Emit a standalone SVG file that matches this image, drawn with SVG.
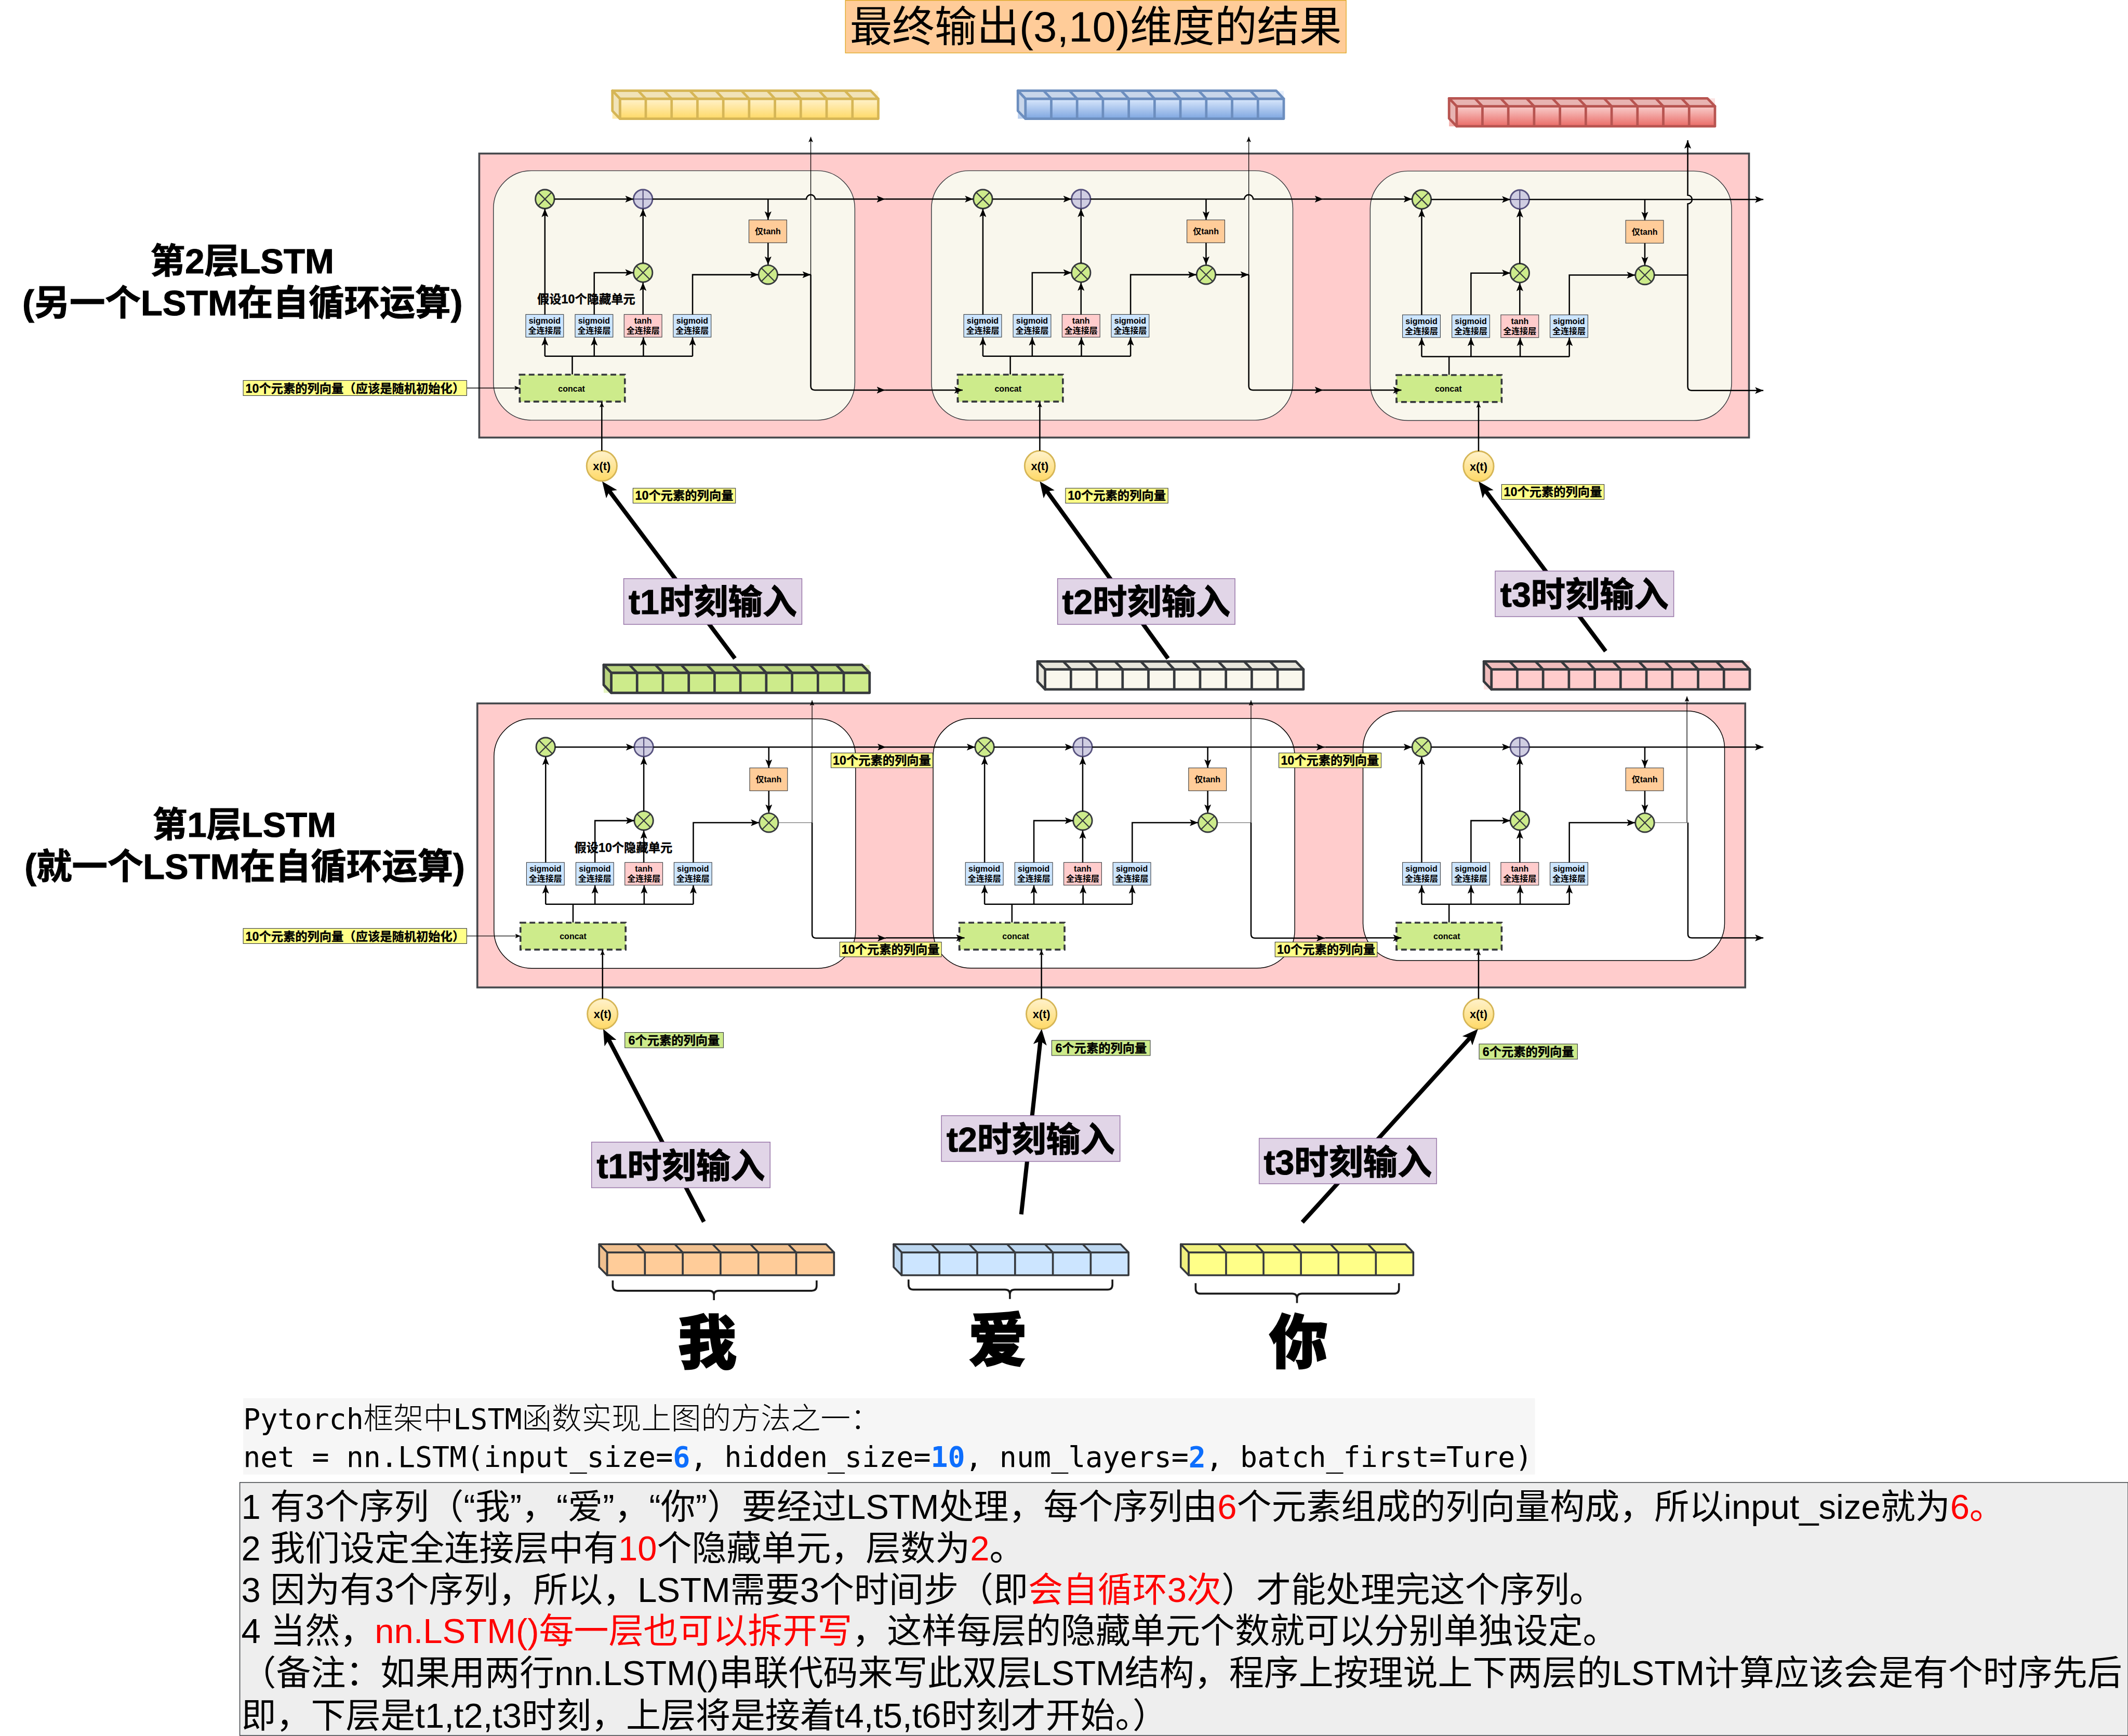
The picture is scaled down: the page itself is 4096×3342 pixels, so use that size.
<svg xmlns="http://www.w3.org/2000/svg" xmlns:xlink="http://www.w3.org/1999/xlink" width="4096" height="3342" viewBox="0 0 4096 3342">
<style>
text{font-family:"Liberation Sans","Noto Sans CJK SC",sans-serif;fill:#000}
.c{text-anchor:middle}
.f{font-size:22px;font-weight:700}
.x{font-size:30px;font-weight:700}
.l{font-size:32px;font-weight:700;stroke:#000;stroke-width:.5}
.h{font-size:91px;font-weight:700;stroke:#000;stroke-width:1.5}
.h2{font-size:94px}
.n{font-size:92px}
.r{fill:#f00}
.code{font-family:"DejaVu Sans Mono","Noto Sans CJK SC",monospace;font-size:75.5px}
.cj{font-size:79px;font-weight:300}
.blue{fill:#0d6efd;font-weight:700}
.big{font-size:155px;font-weight:900;stroke:#000;stroke-width:3}
.w{fill:none;stroke:#000;stroke-width:3.5}
.a{marker-end:url(#ah)}
.t{fill:none;stroke:#000;stroke-width:1.8}
.s{marker-end:url(#as)}
.g{fill:none;stroke:#555;stroke-width:1.5}
.b{fill:none;stroke:#000;stroke-width:11;marker-end:url(#ab)}
.op{fill:#cdeb8b;stroke:#36393d;stroke-width:4}
.ad{fill:#d0cee2;stroke:#56517e;stroke-width:4}
.mk{fill:none;stroke:#36393d;stroke-width:3}
.mp{fill:none;stroke:#56517e;stroke-width:3}
.sg{fill:#cce5ff;stroke:#36393d;stroke-width:1.5}
.ta{fill:#ffcccc;stroke:#36393d;stroke-width:1.5}
.ot{fill:#ffcc99;stroke:#36393d;stroke-width:1.5}
.cc{fill:#cdeb8b;stroke:#36393d;stroke-width:5;stroke-dasharray:15 9}
.xt{fill:url(#gx);stroke:#d6b656;stroke-width:4}
.yl{fill:#ffff88;stroke:#36393d;stroke-width:1.5}
.gl{fill:#cdeb8b;stroke:#36393d;stroke-width:1.5}
.pu{fill:#e1d5e7;stroke:#9673a6;stroke-width:2}
.fr{fill:#ffcccc;stroke:#46494d;stroke-width:5}
.i1{fill:#f9f7ed;stroke:#36393d;stroke-width:2}
.i2{fill:#fff;stroke:#000;stroke-width:2}
.br{fill:none;stroke:#1a1a1a;stroke-width:5}
</style>
<defs>
<marker id="ah" markerUnits="userSpaceOnUse" markerWidth="22" markerHeight="18" refX="22" refY="9" orient="auto"><path d="M0 0L22 9L0 18L5 9Z" fill="#000"/></marker>
<marker id="as" markerUnits="userSpaceOnUse" markerWidth="14" markerHeight="12" refX="14" refY="6" orient="auto"><path d="M0 0L14 6L0 12L3 6Z" fill="#000"/></marker>
<marker id="ab" markerUnits="userSpaceOnUse" markerWidth="42" markerHeight="36" refX="12" refY="18" orient="auto"><path d="M0 0L42 18L0 36L10 18Z" fill="#000"/></marker>
<linearGradient id="gx" x1="0" y1="0" x2="0" y2="1"><stop offset="0" stop-color="#fff2cc"/><stop offset="1" stop-color="#ffd966"/></linearGradient>
<linearGradient id="gy" x1="0" y1="0" x2="0" y2="1"><stop offset="0" stop-color="#fff2cc"/><stop offset="1" stop-color="#ffd966"/></linearGradient>
<linearGradient id="gb" x1="0" y1="0" x2="0" y2="1"><stop offset="0" stop-color="#dae8fc"/><stop offset="1" stop-color="#7ea6e0"/></linearGradient>
<linearGradient id="gr" x1="0" y1="0" x2="0" y2="1"><stop offset="0" stop-color="#f8cecc"/><stop offset="1" stop-color="#ea6b66"/></linearGradient>
<g id="b10" stroke-width="6.5" stroke-linejoin="round">
<path d="M0 0H703V74H0Z" fill-opacity=".55" stroke="none"/>
<path d="M20 21H703V74H20Z"/>
<path d="M0 0H683L703 21H20Z" fill="currentColor"/>
<path d="M0 0L20 21V74L0 53Z" fill="currentColor"/>
<path fill="none" d="M88.3 21V74M156.6 21V74M224.9 21V74M293.2 21V74M361.5 21V74M429.8 21V74M498.1 21V74M566.4 21V74M634.7 21V74M68.3 0L88.3 21M136.6 0L156.6 21M204.9 0L224.9 21M273.2 0L293.2 21M341.5 0L361.5 21M409.8 0L429.8 21M478.1 0L498.1 21M546.4 0L566.4 21M614.7 0L634.7 21"/>
</g>
<g id="b6" stroke-width="5" stroke-linejoin="round" stroke="#36393d">
<path d="M21 21.6H621V82H21Z"/>
<path d="M0 0H600L621 21.6H21Z" fill="currentColor"/>
<path d="M0 0L21 21.6V82L0 60.4Z" fill="currentColor"/>
<path fill="none" d="M121 21.6V82M221 21.6V82M321 21.6V82M421 21.6V82M521 21.6V82M100 0L121 21.6M200 0L221 21.6M300 0L321 21.6M400 0L421 21.6M500 0L521 21.6"/>
</g>
</defs>
<g transform="scale(0.72805)">
<g id="title"><rect x="2235" y="1" width="1324" height="139" fill="#ffcc99" stroke="#d79b00" stroke-width="1.5"/><text class="c" x="2897" y="110" font-size="112">最终输出(3,10)维度的结果</text></g>

<g id="output-bars">
<use href="#b10" x="1619" y="240" fill="url(#gy)" color="#f1e3b8" stroke="#d6b656"/>
<use href="#b10" x="2691" y="240" fill="url(#gb)" color="#c8d6ea" stroke="#6c8ebf"/>
<use href="#b10" x="3831" y="260" fill="url(#gr)" color="#e8b4b2" stroke="#b85450"/>
</g>

<g id="layer2-frame"><rect class="fr" x="1267" y="406" width="3357" height="751"/>
<rect class="i1" x="1304.5" y="451.4" width="955.5" height="659.6" rx="100"/>
<rect class="i1" x="2462.5" y="451.4" width="955.5" height="659.6" rx="100"/>
<rect class="i1" x="3622.5" y="452.4" width="955.5" height="659.6" rx="100"/>
</g>
<g id="layer1-frame"><rect class="fr" x="1262" y="1860" width="3352" height="751"/>
<rect class="i2" x="1306" y="1900.5" width="956" height="660" rx="100"/>
<rect class="i2" x="2467" y="1900" width="956" height="660" rx="100"/>
<rect class="i2" x="3603.5" y="1880" width="956" height="660" rx="100"/>
</g>

<g id="layer2-cell1">
<g id="c21-f1"><circle class="op" cx="1440.6" cy="526.4" r="25"/><path class="mk" d="M1423 508.7L1458.3 544.1M1458.3 508.7L1423 544.1"/></g>
<g id="c21-add"><circle class="ad" cx="1700" cy="526.4" r="25"/><path class="mp" d="M1675 526.4H1725M1700 501.4V551.4"/></g>
<g id="c21-f2"><circle class="op" cx="1700" cy="721" r="25"/><path class="mk" d="M1682.3 703.3L1717.7 738.7M1717.7 703.3L1682.3 738.7"/></g>
<g id="c21-f3"><circle class="op" cx="2030.6" cy="726.4" r="25"/><path class="mk" d="M2012.9 708.7L2048.3 744.1M2048.3 708.7L2012.9 744.1"/></g>
<g id="c21-ot"><rect class="ot" x="1980" y="581.5" width="100" height="60.5"/><text class="c f" x="2030" y="620">仅tanh</text></g>
<g id="c21-s1"><rect class="sg" x="1390" y="831.5" width="100" height="60"/><text class="c f" x="1440" y="856">sigmoid</text><text class="c f" x="1440" y="882">全连接层</text></g>
<g id="c21-s2"><rect class="sg" x="1520.5" y="831.5" width="100" height="60"/><text class="c f" x="1570.5" y="856">sigmoid</text><text class="c f" x="1570.5" y="882">全连接层</text></g>
<g id="c21-s3"><rect class="ta" x="1650" y="831.5" width="100" height="60"/><text class="c f" x="1700" y="856">tanh</text><text class="c f" x="1700" y="882">全连接层</text></g>
<g id="c21-s4"><rect class="sg" x="1780" y="831.5" width="100" height="60"/><text class="c f" x="1830" y="856">sigmoid</text><text class="c f" x="1830" y="882">全连接层</text></g>
<g id="c21-cc"><rect class="cc" x="1374" y="990.7" width="278" height="71.3"/><text class="c f" x="1511" y="1035">concat</text></g>
<g id="c21-xt"><circle class="xt" cx="1591" cy="1232" r="40"/><text class="c x" x="1591" y="1243">x(t)</text></g>
</g>
<g id="layer2-cell2" transform="translate(1158,0)">
<g id="c22-f1"><circle class="op" cx="1440.6" cy="526.4" r="25"/><path class="mk" d="M1423 508.7L1458.3 544.1M1458.3 508.7L1423 544.1"/></g>
<g id="c22-add"><circle class="ad" cx="1700" cy="526.4" r="25"/><path class="mp" d="M1675 526.4H1725M1700 501.4V551.4"/></g>
<g id="c22-f2"><circle class="op" cx="1700" cy="721" r="25"/><path class="mk" d="M1682.3 703.3L1717.7 738.7M1717.7 703.3L1682.3 738.7"/></g>
<g id="c22-f3"><circle class="op" cx="2030.6" cy="726.4" r="25"/><path class="mk" d="M2012.9 708.7L2048.3 744.1M2048.3 708.7L2012.9 744.1"/></g>
<g id="c22-ot"><rect class="ot" x="1980" y="581.5" width="100" height="60.5"/><text class="c f" x="2030" y="620">仅tanh</text></g>
<g id="c22-s1"><rect class="sg" x="1390" y="831.5" width="100" height="60"/><text class="c f" x="1440" y="856">sigmoid</text><text class="c f" x="1440" y="882">全连接层</text></g>
<g id="c22-s2"><rect class="sg" x="1520.5" y="831.5" width="100" height="60"/><text class="c f" x="1570.5" y="856">sigmoid</text><text class="c f" x="1570.5" y="882">全连接层</text></g>
<g id="c22-s3"><rect class="ta" x="1650" y="831.5" width="100" height="60"/><text class="c f" x="1700" y="856">tanh</text><text class="c f" x="1700" y="882">全连接层</text></g>
<g id="c22-s4"><rect class="sg" x="1780" y="831.5" width="100" height="60"/><text class="c f" x="1830" y="856">sigmoid</text><text class="c f" x="1830" y="882">全连接层</text></g>
<g id="c22-cc"><rect class="cc" x="1374" y="990.7" width="278" height="71.3"/><text class="c f" x="1507" y="1035">concat</text></g>
<g id="c22-xt"><circle class="xt" cx="1591" cy="1232" r="40"/><text class="c x" x="1591" y="1243">x(t)</text></g>
</g>
<g id="layer2-cell3" transform="translate(2318,1)">
<g id="c23-f1"><circle class="op" cx="1440.6" cy="526.4" r="25"/><path class="mk" d="M1423 508.7L1458.3 544.1M1458.3 508.7L1423 544.1"/></g>
<g id="c23-add"><circle class="ad" cx="1700" cy="526.4" r="25"/><path class="mp" d="M1675 526.4H1725M1700 501.4V551.4"/></g>
<g id="c23-f2"><circle class="op" cx="1700" cy="721" r="25"/><path class="mk" d="M1682.3 703.3L1717.7 738.7M1717.7 703.3L1682.3 738.7"/></g>
<g id="c23-f3"><circle class="op" cx="2030.6" cy="726.4" r="25"/><path class="mk" d="M2012.9 708.7L2048.3 744.1M2048.3 708.7L2012.9 744.1"/></g>
<g id="c23-ot"><rect class="ot" x="1980" y="581.5" width="100" height="60.5"/><text class="c f" x="2030" y="620">仅tanh</text></g>
<g id="c23-s1"><rect class="sg" x="1390" y="831.5" width="100" height="60"/><text class="c f" x="1440" y="856">sigmoid</text><text class="c f" x="1440" y="882">全连接层</text></g>
<g id="c23-s2"><rect class="sg" x="1520.5" y="831.5" width="100" height="60"/><text class="c f" x="1570.5" y="856">sigmoid</text><text class="c f" x="1570.5" y="882">全连接层</text></g>
<g id="c23-s3"><rect class="ta" x="1650" y="831.5" width="100" height="60"/><text class="c f" x="1700" y="856">tanh</text><text class="c f" x="1700" y="882">全连接层</text></g>
<g id="c23-s4"><rect class="sg" x="1780" y="831.5" width="100" height="60"/><text class="c f" x="1830" y="856">sigmoid</text><text class="c f" x="1830" y="882">全连接层</text></g>
<g id="c23-cc"><rect class="cc" x="1374" y="990.7" width="278" height="71.3"/><text class="c f" x="1511" y="1035">concat</text></g>
<g id="c23-xt"><circle class="xt" cx="1591" cy="1232" r="40"/><text class="c x" x="1591" y="1243">x(t)</text></g>
</g>

<g id="layer1-cell1" transform="translate(2,1449)">
<g id="c11-f1"><circle class="op" cx="1440.6" cy="526.4" r="25"/><path class="mk" d="M1423 508.7L1458.3 544.1M1458.3 508.7L1423 544.1"/></g>
<g id="c11-add"><circle class="ad" cx="1700" cy="526.4" r="25"/><path class="mp" d="M1675 526.4H1725M1700 501.4V551.4"/></g>
<g id="c11-f2"><circle class="op" cx="1700" cy="721" r="25"/><path class="mk" d="M1682.3 703.3L1717.7 738.7M1717.7 703.3L1682.3 738.7"/></g>
<g id="c11-f3"><circle class="op" cx="2030.6" cy="726.4" r="25"/><path class="mk" d="M2012.9 708.7L2048.3 744.1M2048.3 708.7L2012.9 744.1"/></g>
<g id="c11-ot"><rect class="ot" x="1980" y="581.5" width="100" height="60.5"/><text class="c f" x="2030" y="620">仅tanh</text></g>
<g id="c11-s1"><rect class="sg" x="1390" y="831.5" width="100" height="60"/><text class="c f" x="1440" y="856">sigmoid</text><text class="c f" x="1440" y="882">全连接层</text></g>
<g id="c11-s2"><rect class="sg" x="1520.5" y="831.5" width="100" height="60"/><text class="c f" x="1570.5" y="856">sigmoid</text><text class="c f" x="1570.5" y="882">全连接层</text></g>
<g id="c11-s3"><rect class="ta" x="1650" y="831.5" width="100" height="60"/><text class="c f" x="1700" y="856">tanh</text><text class="c f" x="1700" y="882">全连接层</text></g>
<g id="c11-s4"><rect class="sg" x="1780" y="831.5" width="100" height="60"/><text class="c f" x="1830" y="856">sigmoid</text><text class="c f" x="1830" y="882">全连接层</text></g>
<g id="c11-cc"><rect class="cc" x="1374" y="990.7" width="278" height="71.3"/><text class="c f" x="1513" y="1035">concat</text></g>
<g id="c11-xt"><circle class="xt" cx="1591" cy="1232" r="40"/><text class="c x" x="1591" y="1243">x(t)</text></g>
</g>
<g id="layer1-cell2" transform="translate(1162.4,1449)">
<g id="c12-f1"><circle class="op" cx="1440.6" cy="526.4" r="25"/><path class="mk" d="M1423 508.7L1458.3 544.1M1458.3 508.7L1423 544.1"/></g>
<g id="c12-add"><circle class="ad" cx="1700" cy="526.4" r="25"/><path class="mp" d="M1675 526.4H1725M1700 501.4V551.4"/></g>
<g id="c12-f2"><circle class="op" cx="1700" cy="721" r="25"/><path class="mk" d="M1682.3 703.3L1717.7 738.7M1717.7 703.3L1682.3 738.7"/></g>
<g id="c12-f3"><circle class="op" cx="2030.6" cy="726.4" r="25"/><path class="mk" d="M2012.9 708.7L2048.3 744.1M2048.3 708.7L2012.9 744.1"/></g>
<g id="c12-ot"><rect class="ot" x="1980" y="581.5" width="100" height="60.5"/><text class="c f" x="2030" y="620">仅tanh</text></g>
<g id="c12-s1"><rect class="sg" x="1390" y="831.5" width="100" height="60"/><text class="c f" x="1440" y="856">sigmoid</text><text class="c f" x="1440" y="882">全连接层</text></g>
<g id="c12-s2"><rect class="sg" x="1520.5" y="831.5" width="100" height="60"/><text class="c f" x="1570.5" y="856">sigmoid</text><text class="c f" x="1570.5" y="882">全连接层</text></g>
<g id="c12-s3"><rect class="ta" x="1650" y="831.5" width="100" height="60"/><text class="c f" x="1700" y="856">tanh</text><text class="c f" x="1700" y="882">全连接层</text></g>
<g id="c12-s4"><rect class="sg" x="1780" y="831.5" width="100" height="60"/><text class="c f" x="1830" y="856">sigmoid</text><text class="c f" x="1830" y="882">全连接层</text></g>
<g id="c12-cc"><rect class="cc" x="1374" y="990.7" width="278" height="71.3"/><text class="c f" x="1523" y="1035">concat</text></g>
<g id="c12-xt"><circle class="xt" cx="1591" cy="1232" r="40"/><text class="c x" x="1591" y="1243">x(t)</text></g>
</g>
<g id="layer1-cell3" transform="translate(2318,1449)">
<g id="c13-f1"><circle class="op" cx="1440.6" cy="526.4" r="25"/><path class="mk" d="M1423 508.7L1458.3 544.1M1458.3 508.7L1423 544.1"/></g>
<g id="c13-add"><circle class="ad" cx="1700" cy="526.4" r="25"/><path class="mp" d="M1675 526.4H1725M1700 501.4V551.4"/></g>
<g id="c13-f2"><circle class="op" cx="1700" cy="721" r="25"/><path class="mk" d="M1682.3 703.3L1717.7 738.7M1717.7 703.3L1682.3 738.7"/></g>
<g id="c13-f3"><circle class="op" cx="2030.6" cy="726.4" r="25"/><path class="mk" d="M2012.9 708.7L2048.3 744.1M2048.3 708.7L2012.9 744.1"/></g>
<g id="c13-ot"><rect class="ot" x="1980" y="581.5" width="100" height="60.5"/><text class="c f" x="2030" y="620">仅tanh</text></g>
<g id="c13-s1"><rect class="sg" x="1390" y="831.5" width="100" height="60"/><text class="c f" x="1440" y="856">sigmoid</text><text class="c f" x="1440" y="882">全连接层</text></g>
<g id="c13-s2"><rect class="sg" x="1520.5" y="831.5" width="100" height="60"/><text class="c f" x="1570.5" y="856">sigmoid</text><text class="c f" x="1570.5" y="882">全连接层</text></g>
<g id="c13-s3"><rect class="ta" x="1650" y="831.5" width="100" height="60"/><text class="c f" x="1700" y="856">tanh</text><text class="c f" x="1700" y="882">全连接层</text></g>
<g id="c13-s4"><rect class="sg" x="1780" y="831.5" width="100" height="60"/><text class="c f" x="1830" y="856">sigmoid</text><text class="c f" x="1830" y="882">全连接层</text></g>
<g id="c13-cc"><rect class="cc" x="1374" y="990.7" width="278" height="71.3"/><text class="c f" x="1507" y="1035">concat</text></g>
<g id="c13-xt"><circle class="xt" cx="1591" cy="1232" r="40"/><text class="c x" x="1591" y="1243">x(t)</text></g>
</g>

<g id="connectors">
<g transform="translate(0,0)">
<path class="w a" d="M1440.6 831.5V552"/><path class="w a" d="M1466 526.4H1675"/><path class="w a" d="M1700 696V552"/><path class="w a" d="M1700 831.5V747"/><path class="w a" d="M1571 831.5V721H1675"/><path class="w a" d="M1831 831.5V726.4H2005"/><path class="w a" d="M2056 726.4H2143.5"/>
<path class="w a" d="M1725 526.4H2132A11.5 11.5 0 0 1 2155 526.4H2340"/><path class="w a" d="M2030.6 526.4V581"/><path class="w a" d="M2030.6 642V700"/>
<path class="w" d="M1440.6 942H1831M1513 990V942"/><path class="w a" d="M1440.6 942V892"/><path class="w a" d="M1571 942V892"/><path class="w a" d="M1701 942V892"/><path class="w a" d="M1831 942V892"/>
<path class="w a" d="M2143.5 726V1021Q2143.5 1031.5 2154 1031.5H2340"/><path class="t s" d="M2143.5 726V362"/><path class="w s" d="M1591 1192V1063"/>
</g>
<g transform="translate(1158,0)">
<path class="w a" d="M1440.6 831.5V552"/><path class="w a" d="M1466 526.4H1675"/><path class="w a" d="M1700 696V552"/><path class="w a" d="M1700 831.5V747"/><path class="w a" d="M1571 831.5V721H1675"/><path class="w a" d="M1831 831.5V726.4H2005"/><path class="w a" d="M2056 726.4H2143.5"/>
<path class="w a" d="M1725 526.4H2132A11.5 11.5 0 0 1 2155 526.4H2340"/><path class="w a" d="M2030.6 526.4V581"/><path class="w a" d="M2030.6 642V700"/>
<path class="w" d="M1440.6 942H1831M1513 990V942"/><path class="w a" d="M1440.6 942V892"/><path class="w a" d="M1571 942V892"/><path class="w a" d="M1701 942V892"/><path class="w a" d="M1831 942V892"/>
<path class="w a" d="M2143.5 726V1021Q2143.5 1031.5 2154 1031.5H2340"/><path class="t s" d="M2143.5 726V362"/><path class="w s" d="M1591 1192V1063"/>
</g>
<g transform="translate(2318,1)">
<path class="w a" d="M1440.6 831.5V552"/><path class="w a" d="M1466 526.4H1675"/><path class="w a" d="M1700 696V552"/><path class="w a" d="M1700 831.5V747"/><path class="w a" d="M1571 831.5V721H1675"/><path class="w a" d="M1831 831.5V726.4H2005"/><path class="w" d="M2056 726.4H2144"/>
<path class="w a" d="M1725 526.4H2344"/><path class="w a" d="M2030.6 526.4V581"/><path class="w a" d="M2030.6 642V700"/>
<path class="w" d="M1440.6 942H1831M1513 990V942"/><path class="w a" d="M1440.6 942V892"/><path class="w a" d="M1571 942V892"/><path class="w a" d="M1701 942V892"/><path class="w a" d="M1831 942V892"/>
<path class="w a" d="M2144 726V1021Q2144 1031.5 2154 1031.5H2344"/><path class="w a" d="M2144 726V538A11.5 11.5 0 0 0 2144 515V370"/><path class="w s" d="M1591 1192V1063"/>
</g>
<g transform="translate(2,1449)">
<path class="w a" d="M1440.6 831.5V552"/><path class="w a" d="M1466 526.4H1675"/><path class="w a" d="M1700 696V552"/><path class="w a" d="M1700 831.5V747"/><path class="w a" d="M1571 831.5V721H1675"/><path class="w a" d="M1831 831.5V726.4H2005"/><path class="g" d="M2056 726.4H2145"/>
<path class="w a" d="M1725 526.4H2340"/><path class="w a" d="M2030.6 526.4V581"/><path class="w a" d="M2030.6 642V700"/>
<path class="w" d="M1440.6 942H1831M1513 990V942"/><path class="w a" d="M1440.6 942V892"/><path class="w a" d="M1571 942V892"/><path class="w a" d="M1701 942V892"/><path class="w a" d="M1831 942V892"/>
<path class="w a" d="M2145 726V1021Q2145 1031.5 2155 1031.5H2340"/><path class="t s" d="M2145 726V403"/><path class="w s" d="M1591 1192V1063"/>
</g>
<g transform="translate(1162.4,1449)">
<path class="w a" d="M1440.6 831.5V552"/><path class="w a" d="M1466 526.4H1675"/><path class="w a" d="M1700 696V552"/><path class="w a" d="M1700 831.5V747"/><path class="w a" d="M1571 831.5V721H1675"/><path class="w a" d="M1831 831.5V726.4H2005"/><path class="g" d="M2056 726.4H2145"/>
<path class="w a" d="M1725 526.4H2340"/><path class="w a" d="M2030.6 526.4V581"/><path class="w a" d="M2030.6 642V700"/>
<path class="w" d="M1440.6 942H1831M1513 990V942"/><path class="w a" d="M1440.6 942V892"/><path class="w a" d="M1571 942V892"/><path class="w a" d="M1701 942V892"/><path class="w a" d="M1831 942V892"/>
<path class="w a" d="M2145 726V1021Q2145 1031.5 2155 1031.5H2340"/><path class="t s" d="M2145 726V403"/><path class="w s" d="M1591 1192V1063"/>
</g>
<g transform="translate(2318,1449)">
<path class="w a" d="M1440.6 831.5V552"/><path class="w a" d="M1466 526.4H1675"/><path class="w a" d="M1700 696V552"/><path class="w a" d="M1700 831.5V747"/><path class="w a" d="M1571 831.5V721H1675"/><path class="w a" d="M1831 831.5V726.4H2005"/><path class="g" d="M2056 726.4H2142"/>
<path class="w a" d="M1725 526.4H2344"/><path class="w a" d="M2030.6 526.4V581"/><path class="w a" d="M2030.6 642V700"/>
<path class="w" d="M1440.6 942H1831M1513 990V942"/><path class="w a" d="M1440.6 942V892"/><path class="w a" d="M1571 942V892"/><path class="w a" d="M1701 942V892"/><path class="w a" d="M1831 942V892"/>
<path class="w a" d="M2144.5 726V1021Q2144.5 1031 2155 1031H2344"/><path class="t s" d="M2142 726V392.5"/><path class="w s" d="M1591 1192V1063"/>
</g>
<path class="w a" d="M2340 526.4H2573"/><path class="w a" d="M2340 1031.5H2545"/>
<path class="w a" d="M3498 526.4H3733"/><path class="w a" d="M3498 1031.5H3705"/>
<path class="w a" d="M2342 1975.4H2578"/><path class="w a" d="M2342 2480H2550"/>
<path class="w a" d="M3503 1975.4H3733"/><path class="w a" d="M3503 2480H3705"/>
<path class="t s" d="M1234 1026H1374"/><path class="t s" d="M1234 2475H1376"/>
<path class="b" d="M1943 1741L1610 1297"/><path class="b" d="M3088 1741L2766.6 1297.3"/><path class="b" d="M4245 1722L3927 1297"/>
<path class="b" d="M1861 3230.6L1608.6 2747.6"/><path class="b" d="M2700 3211L2750.7 2750.8"/><path class="b" d="M3443 3232L3887.3 2743.2"/>
</g>

<g id="hidden-note-2"><text class="c l" x="1550" y="802">假设10个隐藏单元</text></g>
<g id="hidden-note-1"><text class="c l" x="1648" y="2253">假设10个隐藏单元</text></g>
<g id="title-layer2"><text class="c h" x="640" y="722" style="font-size:92px">第2层LSTM</text><text class="c h h2" x="641" y="834" style="font-size:94px">(另一个LSTM在自循环运算)</text></g>
<g id="title-layer1"><text class="c h" x="646" y="2213" style="font-size:92px">第1层LSTM</text><text class="c h h2" x="647" y="2324" style="font-size:94px">(就一个LSTM在自循环运算)</text></g>

<g id="init-2"><rect class="yl" x="643" y="1006" width="591" height="40"/><text class="l" x="649" y="1038">10个元素的列向量（应该是随机初始化）</text></g>
<g id="init-1"><rect class="yl" x="643" y="2455" width="591" height="40"/><text class="l" x="649" y="2487">10个元素的列向量（应该是随机初始化）</text></g>
<g id="vec10-a"><rect class="yl" x="1673.5" y="1291" width="271" height="39.5"/><text class="c l" x="1809" y="1322">10个元素的列向量</text></g>
<g id="vec10-b"><rect class="yl" x="2817" y="1291" width="271" height="39.5"/><text class="c l" x="2952.5" y="1322">10个元素的列向量</text></g>
<g id="vec10-c"><rect class="yl" x="3970" y="1281" width="271" height="39.5"/><text class="c l" x="4105.5" y="1312">10个元素的列向量</text></g>
<g id="vec10-d"><rect class="yl" x="2197" y="1991" width="269" height="39"/><text class="c l" x="2331.5" y="2022">10个元素的列向量</text></g>
<g id="vec10-e"><rect class="yl" x="2220" y="2491" width="269" height="39"/><text class="c l" x="2354.5" y="2522">10个元素的列向量</text></g>
<g id="vec10-f"><rect class="yl" x="3381" y="1991" width="270.5" height="39"/><text class="c l" x="3516" y="2022">10个元素的列向量</text></g>
<g id="vec10-g"><rect class="yl" x="3371" y="2491" width="270" height="39"/><text class="c l" x="3506" y="2522">10个元素的列向量</text></g>
<g id="vec6-a"><rect class="gl" x="1652" y="2730" width="260.6" height="40.6"/><text class="c l" x="1782" y="2762">6个元素的列向量</text></g>
<g id="vec6-b"><rect class="gl" x="2780.6" y="2751" width="260.4" height="40"/><text class="c l" x="2911" y="2783">6个元素的列向量</text></g>
<g id="vec6-c"><rect class="gl" x="3910.5" y="2760.6" width="260" height="40"/><text class="c l" x="4040.5" y="2792">6个元素的列向量</text></g>

<g id="t1-up"><rect class="pu" x="1649" y="1530" width="471" height="121"/><text class="c h" x="1884.5" y="1624">t1时刻输入</text></g>
<g id="t2-up"><rect class="pu" x="2796" y="1530" width="469" height="121"/><text class="c h" x="3030.5" y="1624">t2时刻输入</text></g>
<g id="t3-up"><rect class="pu" x="3953" y="1510" width="472" height="120.5"/><text class="c h" x="4189" y="1604">t3时刻输入</text></g>
<g id="t1-low"><rect class="pu" x="1564" y="3020" width="472" height="120.6"/><text class="c h" x="1800" y="3115">t1时刻输入</text></g>
<g id="t2-low"><rect class="pu" x="2489" y="2950" width="472" height="121"/><text class="c h" x="2725" y="3045">t2时刻输入</text></g>
<g id="t3-low"><rect class="pu" x="3329" y="3010" width="469" height="120"/><text class="c h" x="3563.5" y="3105">t3时刻输入</text></g>

<g id="mid-bars">
<use href="#b10" x="1596" y="1758" fill="#cdeb8b" color="#b9d47e" stroke="#36393d"/>
<use href="#b10" x="2743" y="1749" fill="#f9f7ed" color="#e8e6dc" stroke="#36393d"/>
<use href="#b10" x="3923" y="1749" fill="#ffcccc" color="#f0bcbc" stroke="#36393d"/>
</g>
<g id="word-wo"><use href="#b6" x="1584" y="3290" fill="#ffcc99" color="#f0c08f"/><path class="br" d="M1620 3385.6V3400Q1620 3413 1633 3413H1875Q1887.5 3413 1887.5 3425V3438M2159 3385.6V3400Q2159 3413 2146 3413H1900Q1887.5 3413 1887.5 3425"/><text class="c big" x="1870" y="3605">我</text></g>
<g id="word-ai"><use href="#b6" x="2362.6" y="3290" fill="#cce5ff" color="#bcd6ef"/><path class="br" d="M2402 3383.5V3397Q2402 3410 2415 3410H2657Q2670 3410 2670 3422V3434.7M2941 3383.5V3397Q2941 3410 2928 3410H2683Q2670 3410 2670 3422"/><text class="c big" x="2638" y="3597">爱</text></g>
<g id="word-ni"><use href="#b6" transform="translate(3121.7,3290) scale(.99,1)" fill="#ffff88" color="#f0f07e"/><path class="br" d="M3161 3393V3408Q3161 3420.7 3174 3420.7H3416Q3429 3420.7 3429 3433V3445.6M3698.6 3393V3408Q3698.6 3420.7 3685 3420.7H3442Q3429 3420.7 3429 3433"/><text class="c big" x="3433" y="3604">你</text></g>

<g id="code"><rect x="643" y="3697" width="3415" height="202" fill="#f6f6f6"/>
<text class="code" x="643" y="3779">Pytorch<tspan class="cj">框架中</tspan>LSTM<tspan class="cj">函数实现上图的方法之一：</tspan></text>
<text class="code" x="643" y="3879">net = nn.LSTM(input_size=<tspan class="blue">6</tspan>, hidden_size=<tspan class="blue">10</tspan>, num_layers=<tspan class="blue">2</tspan>, batch_first=Ture)</text>
</g>
<g id="notes"><rect x="634" y="3920" width="4992" height="669" fill="#eeeeee" stroke="#36393d" stroke-width="2"/>
<text class="n" x="638" y="4016">1 有3个序列（“我”，“爱”，“你”）要经过LSTM处理，每个序列由<tspan class="r">6</tspan>个元素组成的列向量构成，所以input_size就为<tspan class="r">6。</tspan></text>
<text class="n" x="638" y="4126">2 我们设定全连接层中有<tspan class="r">10</tspan>个隐藏单元，层数为<tspan class="r">2</tspan>。</text>
<text class="n" x="638" y="4236">3 因为有3个序列，所以，LSTM需要3个时间步（即<tspan class="r">会自循环3次</tspan>）才能处理完这个序列。</text>
<text class="n" x="638" y="4345">4 当然，<tspan class="r">nn.LSTM()每一层也可以拆开写</tspan>，这样每层的隐藏单元个数就可以分别单独设定。</text>
<text class="n" x="638" y="4456"> （备注：如果用两行nn.LSTM()串联代码来写此双层LSTM结构，程序上按理说上下两层的LSTM计算应该会是有个时序先后</text>
<text class="n" x="638" y="4568">即，下层是t1,t2,t3时刻，上层将是接着t4,t5,t6时刻才开始。）</text>
</g>
</g>
</svg>
